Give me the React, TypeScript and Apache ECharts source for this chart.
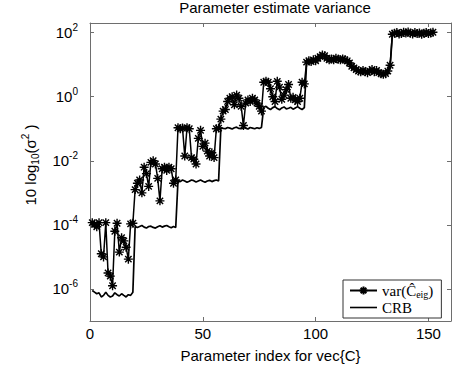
import React, { useEffect, useRef } from 'react';
import * as echarts from 'echarts';

const titleText = 'Parameter estimate variance';
const xAxisTitle = 'Parameter index for vec{C}';
const xTickValues = [0, 50, 100, 150];
const yTickExponents = [-6, -4, -2, 0, 2];
const seriesNames = ['var', 'CRB'];

// log10 of the sample variance, parameter index 1..152
const varLog10 = [
  -3.93, -3.98, -4.06, -3.93, -4.9, -5.0, -3.93, -5.5, -5.6, -5.9, -4.2, -3.95, -4.85, -4.4, -4.5, -4.7, -5.07, -3.97, -3.95,
  -2.9, -2.7, -2.6, -3.0, -2.2, -2.4, -2.8, -2.05, -2.0, -2.1, -2.55, -3.25, -2.25, -2.2, -2.3, -2.2, -2.25, -2.7, -2.6,
  -0.97, -1.0, -0.98, -1.85, -0.97, -1.0, -1.9, -1.95, -2.1, -1.3, -1.05, -1.55, -1.45, -1.7, -1.85, -1.75, -1.9, -1.0, -0.98,
  -0.7, -0.45, -0.4, -0.15, -0.05, 0.0, -0.25, 0.05, -0.05, -0.3, -0.9, -0.2, -0.1, -0.15, -0.05, -0.1, -0.2, -0.3, -0.45,
  0.45, 0.48, 0.45, 0.25, 0.0, -0.15, 0.48, 0.3, -0.08, 0.05, 0.22, 0.38, -0.05, -0.02, -0.1, -0.15, -0.05, 0.45, 0.4,
  1.08, 1.12, 1.1, 1.15, 1.12, 1.2, 1.25, 1.3, 1.28, 1.2, 1.15, 1.18, 1.15, 1.2, 1.17, 1.15, 1.18, 1.15, 1.12,
  1.05, 0.95, 0.9, 0.85, 0.8, 0.78, 0.82, 0.78, 0.75, 0.8, 0.85, 0.78, 0.82, 0.75, 0.72, 0.7, 0.72, 0.8, 0.98,
  1.95, 1.98, 2.0, 1.96, 1.97, 2.01, 1.99, 2.02, 1.98, 1.96, 2.0, 1.97, 1.99, 1.95, 1.98, 2.0, 1.97, 1.99, 2.01,
];

// log10 of the CRB, parameter index 1..152
const crbLog10 = [
  -6.05, -6.1, -6.15, -6.12, -6.25, -6.2, -6.1, -6.2, -6.25, -6.22, -6.12, -6.18, -6.22, -6.15, -6.2, -6.25, -6.18, -6.2, -6.1,
  -4.05, -4.08, -4.05, -4.02, -4.07, -4.1, -4.05, -4.04, -4.08, -4.1, -4.06, -4.03, -4.07, -4.04, -4.02, -4.06, -4.09, -4.05, -4.08,
  -2.62, -2.65, -2.6, -2.63, -2.67, -2.64, -2.6, -2.62, -2.66, -2.63, -2.6, -2.64, -2.67, -2.63, -2.61, -2.65, -2.62, -2.6, -2.63,
  -0.97, -0.99, -1.0, -0.96, -0.98, -1.01, -0.97, -0.95, -0.99, -1.0, -0.97, -0.98, -1.01, -0.96, -0.98, -1.0, -0.97, -0.99, -0.96,
  -0.33, -0.3, -0.36, -0.4, -0.34, -0.31, -0.37, -0.41, -0.35, -0.32, -0.38, -0.36, -0.33, -0.39, -0.35, -0.31, -0.36, -0.4, -0.34,
  1.06, 1.1, 1.08, 1.12, 1.1, 1.17, 1.22, 1.27, 1.25, 1.17, 1.12, 1.15, 1.12, 1.17, 1.14, 1.12, 1.15, 1.12, 1.1,
  1.0, 0.92, 0.86, 0.82, 0.77, 0.75, 0.78, 0.75, 0.72, 0.76, 0.8, 0.75, 0.78, 0.72, 0.69, 0.67, 0.69, 0.75, 0.9,
  1.93, 1.96, 1.98, 1.94, 1.95, 1.98, 1.97, 1.99, 1.96, 1.94, 1.97, 1.95, 1.97, 1.93, 1.96, 1.98, 1.95, 1.97, 1.98,
];

const SANS = 'Liberation Sans, Arial, sans-serif';
const SERIF = 'Liberation Serif, Times New Roman, serif';
const AXIS_COLOR = '#6e6e6e';
const ASTERISK = 'path://M5,0L5,10M0,5L10,5M1.46,1.46L8.54,8.54M1.46,8.54L8.54,1.46';
const LINE_ICON = 'path://M0,0L27,0L27,1.6L0,1.6Z';

export default function App() {
  const ref = useRef<HTMLDivElement>(null);
  useEffect(() => {
    if (!ref.current) return;
    const chart = echarts.init(ref.current, undefined, { renderer: 'svg' });
    const toPairs = (arr: number[]) => arr.map((v, i) => [i + 1, v]);
    const isEvenTick = (v: number) => {
      const r = Math.round(v);
      return Math.abs(v - r) < 1e-6 && yTickExponents.includes(r);
    };
    const yMin = -7;
    const yMax = 2.3;
    const tickStyle = { inside: true, length: 4, lineStyle: { color: AXIS_COLOR, width: 1 } };
    const lineStyleAxis = { show: true, onZero: false, lineStyle: { color: AXIS_COLOR, width: 1 } };
    chart.setOption({
      animation: false,
      backgroundColor: '#fff',
      title: {
        text: titleText,
        left: 270,
        top: -5,
        textAlign: 'center',
        textStyle: { fontFamily: SANS, fontSize: 15, fontWeight: 'normal', color: '#000' },
      },
      grid: { left: 90, right: 23, top: 23, bottom: 67, containLabel: false },
      legend: {
        orient: 'vertical',
        left: 343,
        top: 280,
        padding: [3, 8, 3, 6],
        itemGap: 1,
        itemWidth: 27,
        itemHeight: 10,
        backgroundColor: '#fff',
        borderColor: '#333',
        borderWidth: 1,
        data: [{ name: seriesNames[0] }, { name: seriesNames[1], icon: LINE_ICON }],
        formatter: (name: string) => (name === 'var' ? '{n|var(Ĉ}{s|eig}{n|)}' : '{n|CRB}'),
        textStyle: {
          fontFamily: SERIF,
          fontSize: 15,
          color: '#000',
          rich: {
            n: { fontFamily: SERIF, fontSize: 15, lineHeight: 17, color: '#000' },
            s: { fontFamily: SERIF, fontSize: 10, verticalAlign: 'bottom', color: '#000' },
          },
        },
      },
      xAxis: [
        {
          type: 'value',
          min: 0,
          max: 160,
          interval: 50,
          position: 'bottom',
          axisLine: lineStyleAxis,
          axisTick: tickStyle,
          splitLine: { show: false },
          axisLabel: {
            margin: 5,
            fontFamily: SANS,
            fontSize: 15,
            color: '#000',
            formatter: (v: number) => (xTickValues.includes(v) ? String(v) : ''),
          },
          name: xAxisTitle,
          nameLocation: 'middle',
          nameGap: 27,
          nameTextStyle: { fontFamily: SANS, fontSize: 15, color: '#000' },
        },
        {
          type: 'value',
          min: 0,
          max: 160,
          interval: 50,
          position: 'top',
          axisLine: lineStyleAxis,
          axisTick: tickStyle,
          splitLine: { show: false },
          axisLabel: { show: false },
        },
      ],
      yAxis: [
        {
          type: 'value',
          min: yMin,
          max: yMax,
          minInterval: 2,
          maxInterval: 2,
          position: 'left',
          axisLine: lineStyleAxis,
          axisTick: tickStyle,
          splitLine: { show: false },
          axisLabel: {
            margin: 12,
            formatter: (v: number) => (isEvenTick(v) ? `{b|10}{s|${Math.round(v)}}` : ''),
            rich: {
              b: { fontFamily: SANS, fontSize: 15, lineHeight: 20, color: '#000' },
              s: { fontFamily: SANS, fontSize: 10, verticalAlign: 'top', color: '#000' },
            },
          },
          name: '{n|10 log}{sub|10}{n|(σ}{sup|2}{n| )}',
          nameLocation: 'middle',
          nameGap: 50,
          nameRotate: 90,
          nameTextStyle: {
            fontFamily: SANS,
            fontSize: 15,
            color: '#000',
            padding: [0, 0, 0, 14],
            rich: {
              n: { fontFamily: SANS, fontSize: 15, lineHeight: 20, color: '#000' },
              sub: { fontFamily: SANS, fontSize: 10, verticalAlign: 'bottom', color: '#000' },
              sup: { fontFamily: SANS, fontSize: 10, verticalAlign: 'top', color: '#000' },
            },
          },
        },
        {
          type: 'value',
          min: yMin,
          max: yMax,
          minInterval: 2,
          maxInterval: 2,
          position: 'right',
          axisLine: lineStyleAxis,
          axisTick: tickStyle,
          splitLine: { show: false },
          axisLabel: { show: false },
        },
      ],
      series: [
        {
          name: seriesNames[0],
          type: 'line',
          data: toPairs(varLog10),
          symbol: ASTERISK,
          symbolSize: 9,
          showSymbol: true,
          showAllSymbol: true,
          lineStyle: { color: '#000', width: 1.5 },
          itemStyle: { color: '#000', borderColor: '#000', borderWidth: 1.4 },
          z: 3,
        },
        {
          name: seriesNames[1],
          type: 'line',
          data: toPairs(crbLog10),
          symbol: 'none',
          lineStyle: { color: '#000', width: 1.7 },
          itemStyle: { color: '#000' },
          z: 2,
        },
      ],
    });
    return () => chart.dispose();
  }, []);
  return (
    <div
      ref={ref}
      style={{ position: 'fixed', left: 0, top: 0, width: 474, height: 388, background: '#fff' }}
    />
  );
}
